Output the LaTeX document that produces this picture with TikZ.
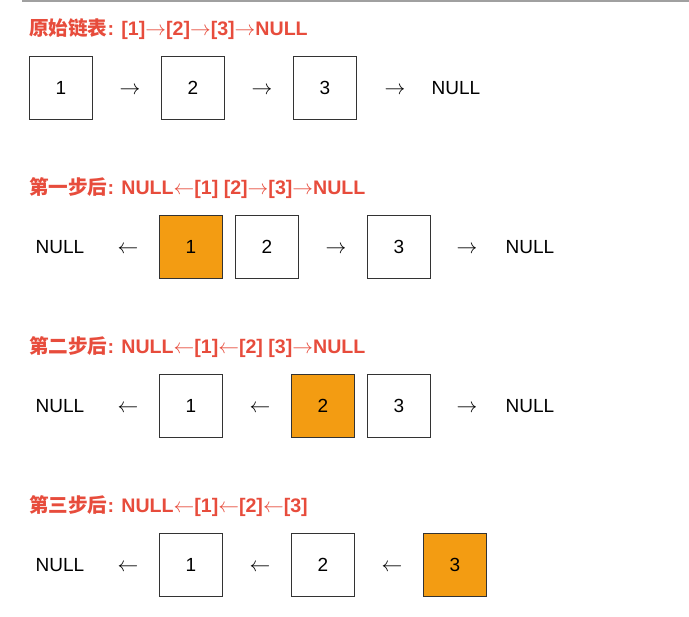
\documentclass[tikz,border=0pt]{standalone}
\usepackage{fontspec}
\setmainfont{Liberation Sans}
\newfontfamily\cjk{Noto Sans CJK SC}
\definecolor{titlered}{HTML}{E74C3C}
\definecolor{hl}{HTML}{F39C12}
\definecolor{edgegray}{HTML}{333333}
\definecolor{rulegray}{HTML}{A0A0A0}
\newcommand{\ra}{$\rightarrow$}
\newcommand{\la}{$\leftarrow$}
\begin{document}
\begin{tikzpicture}[x=1pt,y=-1pt,
  box/.style={draw=edgegray, line width=1pt, minimum size=63pt, inner sep=0pt, font=\fontsize{19}{21}\selectfont},
  hbox/.style={box, fill=hl},
  lbl/.style={inner sep=0pt, font=\fontsize{19}{21}\selectfont},
  arr/.style={inner sep=0pt, yshift=-2.5pt, font=\fontsize{19.5}{21}\selectfont},
  ttl/.style={anchor=base west, inner sep=0pt, text=titlered, font=\fontsize{19.6}{21}\selectfont\bfseries}]
\useasboundingbox (0,0) rectangle (689,617);
\draw[rulegray, line width=1.5pt] (22,1) -- (689,1);

% Row 1
\node[ttl] (t1) at (29,36) {{\cjk\bfseries 原始链表}: [1]\ra[2]\ra[3]\ra NULL};
\node[box] (a1) at (61,88) {1};
\node[arr] (a1r) at (130,88) {\ra};
\node[box] (a2) at (193,88) {2};
\node[arr] (a2r) at (262,88) {\ra};
\node[box] (a3) at (325,88) {3};
\node[arr] (a3r) at (395,88) {\ra};
\node[lbl] (an) at (456,88) {NULL};

% Row 2
\node[ttl] (t2) at (29,195) {{\cjk\bfseries 第一步后}: NULL\la[1] [2]\ra[3]\ra NULL};
\node[lbl] (bn0) at (60,247) {NULL};
\node[arr] (b0l) at (128,247) {\la};
\node[hbox] (b1) at (191,247) {1};
\node[box] (b2) at (267,247) {2};
\node[arr] (b2r) at (336,247) {\ra};
\node[box] (b3) at (399,247) {3};
\node[arr] (b3r) at (467,247) {\ra};
\node[lbl] (bn) at (530,247) {NULL};

% Row 3
\node[ttl] (t3) at (29,354) {{\cjk\bfseries 第二步后}: NULL\la[1]\la[2] [3]\ra NULL};
\node[lbl] (cn0) at (60,406) {NULL};
\node[arr] (c0l) at (128,406) {\la};
\node[box] (c1) at (191,406) {1};
\node[arr] (c1l) at (260,406) {\la};
\node[hbox] (c2) at (323,406) {2};
\node[box] (c3) at (399,406) {3};
\node[arr] (c3r) at (467,406) {\ra};
\node[lbl] (cn) at (530,406) {NULL};

% Row 4
\node[ttl] (t4) at (29,513) {{\cjk\bfseries 第三步后}: NULL\la[1]\la[2]\la[3]};
\node[lbl] (dn0) at (60,565) {NULL};
\node[arr] (d0l) at (128,565) {\la};
\node[box] (d1) at (191,565) {1};
\node[arr] (d1l) at (260,565) {\la};
\node[box] (d2) at (323,565) {2};
\node[arr] (d2l) at (392,565) {\la};
\node[hbox] (d3) at (455,565) {3};
\end{tikzpicture}
\end{document}
